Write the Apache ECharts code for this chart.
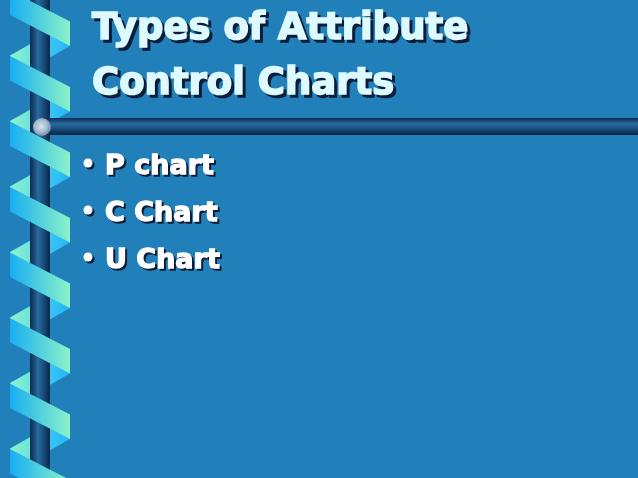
<!DOCTYPE html>
<html>
<head>
<meta charset="utf-8">
<script src="https://cdn.jsdelivr.net/npm/echarts@6/dist/echarts.min.js"></script>
<style>
html,body{margin:0;padding:0;background:#2180ba;}
#main{width:638px;height:478px;}
</style>
</head>
<body>
<div id="main"></div>
<script>
// Slide content
var titleLines = ['Types of Attribute', 'Control Charts'];
var bulletItems = ['P chart', 'C Chart', 'U Chart'];

var chart = echarts.init(document.getElementById('main'), null, {renderer: 'canvas'});

var BG = '#2180ba';
var elements = [];

// decorative helix ribbon around the left pole
var period = 65.5, firstTop = -9.5, leftX = 10, rightX = 70;
var rise = 31, band = 24.5, backRise = 34;
var tops = [];
for (var y0 = firstTop - period; y0 < 478 + period; y0 += period) tops.push(y0);

var frontGrad = {type: 'linear', x: 0, y: 0, x2: 1, y2: 0,
  colorStops: [{offset: 0, color: '#17aef2'}, {offset: 1, color: '#8cf2c8'}]};
var backGrad = {type: 'linear', x: 0, y: 0, x2: 1, y2: 0,
  colorStops: [{offset: 0, color: '#8cf2cc'}, {offset: 0.35, color: '#6ee2dc'}, {offset: 0.65, color: '#3cc4f2'}, {offset: 1, color: '#22b6f8'}]};
var poleGrad = {type: 'linear', x: 0, y: 0, x2: 1, y2: 0,
  colorStops: [{offset: 0, color: '#0a2a4e'}, {offset: 0.4, color: '#2a6a9e'}, {offset: 0.6, color: '#1c5688'}, {offset: 1, color: '#0a2644'}]};
var barGrad = {type: 'linear', x: 0, y: 0, x2: 0, y2: 1,
  colorStops: [{offset: 0, color: '#0a2c52'}, {offset: 0.35, color: '#2a6a9e'}, {offset: 0.6, color: '#1a5284'}, {offset: 1, color: '#072442'}]};

// back faces
tops.forEach(function (y0) {
  elements.push({type: 'polygon', silent: true, z: 1,
    shape: {points: [[rightX, y0 + rise], [rightX, y0 + rise + band], [leftX, y0 + rise + band + backRise], [leftX, y0 + rise + backRise]]},
    style: {fill: backGrad}});
});
// pole
elements.push({type: 'rect', silent: true, z: 2, shape: {x: 30, y: 0, width: 20, height: 478}, style: {fill: poleGrad}});
// front faces
tops.forEach(function (y0) {
  elements.push({type: 'polygon', silent: true, z: 3,
    shape: {points: [[leftX, y0], [rightX, y0 + rise], [rightX, y0 + rise + band], [leftX, y0 + band]]},
    style: {fill: frontGrad}});
});
// horizontal bar and knob
elements.push({type: 'rect', silent: true, z: 4, shape: {x: 42, y: 118, width: 600, height: 17}, style: {fill: barGrad}});
elements.push({type: 'circle', silent: true, z: 5, shape: {cx: 42, cy: 127, r: 9},
  style: {fill: {type: 'radial', x: 0.45, y: 0.45, r: 0.6,
    colorStops: [{offset: 0, color: '#d6e2ee'}, {offset: 0.6, color: '#a4b8cc'}, {offset: 1, color: '#5f7f9f'}]}}});

// title with shadow
var titleFont = 'bold 37px "DejaVu Sans"';
titleLines.forEach(function (t, i) {
  var by = 11 + i * 55;
  elements.push({type: 'text', silent: true, z: 10, x: 92 + 3, y: by + 3,
    style: {text: t, font: titleFont, fill: '#0b1d38', stroke: '#0b1d38', lineWidth: 1.6, verticalAlign: 'top'}});
  elements.push({type: 'text', silent: true, z: 11, x: 92, y: by,
    style: {text: t, font: titleFont, fill: '#dcfaff', stroke: '#dcfaff', lineWidth: 1.6, verticalAlign: 'top'}});
});

// bullets
var bulletFont = 'bold 27px "DejaVu Sans"';
bulletItems.forEach(function (t, i) {
  var by = 153 + i * 47;
  elements.push({type: 'circle', silent: true, z: 10, shape: {cx: 90, cy: by + 12, r: 4.5}, style: {fill: '#0b1d38'}});
  elements.push({type: 'circle', silent: true, z: 11, shape: {cx: 88, cy: by + 10, r: 4.5}, style: {fill: '#ffffff'}});
  elements.push({type: 'text', silent: true, z: 10, x: 105 + 2, y: by + 2,
    style: {text: t, font: bulletFont, fill: '#0b1d38', stroke: '#0b1d38', lineWidth: 1.3, verticalAlign: 'top'}});
  elements.push({type: 'text', silent: true, z: 11, x: 105, y: by,
    style: {text: t, font: bulletFont, fill: '#ffffff', stroke: '#ffffff', lineWidth: 1.3, verticalAlign: 'top'}});
});

chart.setOption({
  backgroundColor: BG,
  animation: false,
  graphic: {elements: elements}
});
</script>
</body>
</html>
